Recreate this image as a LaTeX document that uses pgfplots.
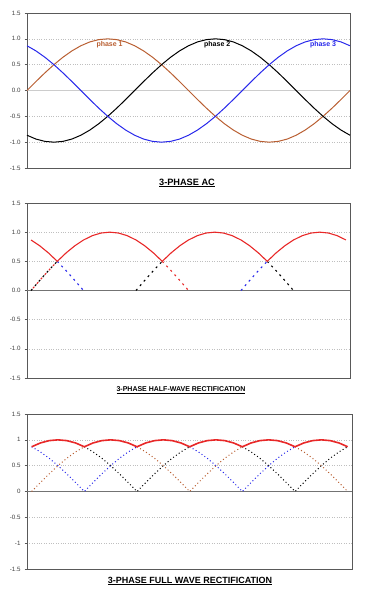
\documentclass[border=0pt]{standalone}
\usepackage{pgfplots}
\pgfplotsset{compat=1.18}
\usepackage{fontspec}
\setmainfont{Liberation Sans}
\definecolor{ph1}{RGB}{185,95,50}
\definecolor{ph3}{RGB}{40,40,235}
\definecolor{rd}{RGB}{232,40,40}
\pgfplotsset{
  base/.style={
    scale only axis, width=323pt, height=155pt,
    ymin=-1.5, ymax=1.5, ytick={-1.5,-1,-0.5,0,0.5,1,1.5},
    xtick=\empty, ymajorgrids, grid style={black!25, dotted, line width=0.6pt},
    axis line style={black!65, line width=0.9pt},
    y tick label style={font=\fontsize{6.2}{7}\selectfont, text=black!75},
    ytick pos=left, tick align=outside, major tick length=2.5pt,
    tick style={black!65, line width=0.6pt},
    clip=false,
    yticklabel style={xshift=-0.5pt},
  },
}
\begin{document}
\begin{tikzpicture}[x=1pt,y=1pt]
\useasboundingbox (0,0) rectangle (377,-599);
% ---------------- Panel 1 ----------------
\begin{axis}[base, at={(27pt,-13pt)}, anchor=north west, xmin=0, xmax=360,
  yticklabels={-1.5,-1.0,-0.5,0.0,0.5,1.0,1.5}]
\addplot[black!20, line width=0.7pt, forget plot] coordinates {(0,0) (360,0)};
\addplot[ph1, line width=1pt] coordinates {
(0,0) (10,.174) (20,.342) (30,.5) (40,.643) (50,.766) (60,.866) (70,.940) (80,.985) (90,1)
(100,.985) (110,.940) (120,.866) (130,.766) (140,.643) (150,.5) (160,.342) (170,.174) (180,0)
(190,-.174) (200,-.342) (210,-.5) (220,-.643) (230,-.766) (240,-.866) (250,-.940) (260,-.985) (270,-1)
(280,-.985) (290,-.940) (300,-.866) (310,-.766) (320,-.643) (330,-.5) (340,-.342) (350,-.174) (360,0)};
\addplot[black, line width=1pt] coordinates {
(0,-.866) (10,-.940) (20,-.985) (30,-1) (40,-.985) (50,-.940) (60,-.866) (70,-.766) (80,-.643) (90,-.5)
(100,-.342) (110,-.174) (120,0) (130,.174) (140,.342) (150,.5) (160,.643) (170,.766) (180,.866)
(190,.940) (200,.985) (210,1) (220,.985) (230,.940) (240,.866) (250,.766) (260,.643) (270,.5)
(280,.342) (290,.174) (300,0) (310,-.174) (320,-.342) (330,-.5) (340,-.643) (350,-.766) (360,-.866)};
\addplot[ph3, line width=1pt] coordinates {
(0,.866) (10,.766) (20,.643) (30,.5) (40,.342) (50,.174) (60,0) (70,-.174) (80,-.342) (90,-.5)
(100,-.643) (110,-.766) (120,-.866) (130,-.940) (140,-.985) (150,-1) (160,-.985) (170,-.940) (180,-.866)
(190,-.766) (200,-.643) (210,-.5) (220,-.342) (230,-.174) (240,0) (250,.174) (260,.342) (270,.5)
(280,.643) (290,.766) (300,.866) (310,.940) (320,.985) (330,1) (340,.985) (350,.940) (360,.866)};
\node[text=ph1, font=\bfseries\fontsize{7}{8}\selectfont] at (axis cs:92,0.88) {phase 1};
\node[text=black, font=\bfseries\fontsize{7}{8}\selectfont] at (axis cs:212,0.88) {phase 2};
\node[text=ph3, font=\bfseries\fontsize{7}{8}\selectfont] at (axis cs:330,0.88) {phase 3};
\end{axis}
\node[font=\bfseries\fontsize{9.2}{10}\selectfont] at (187,-183) {\underline{3-PHASE AC}};
% ---------------- Panel 2 ----------------
\begin{axis}[base, at={(27pt,-203pt)}, anchor=north west, height=175pt, xmin=-4.6, xmax=364.6,
  yticklabels={-1.5,-1.0,-0.5,0.0,0.5,1.0,1.5}]
\addplot[black!55, line width=0.8pt, forget plot] coordinates {(-4.6,0) (364.6,0)};
\addplot[black, line width=1.1pt, dash pattern=on 2pt off 4pt] coordinates {(0,0) (10,.174) (20,.342) (30,.5)};
\addplot[rd, line width=1.1pt, dash pattern=on 2pt off 4pt, dash phase=3pt] coordinates {(0,0) (10,.174) (20,.342) (30,.5)};
\addplot[ph3, line width=1.1pt, dash pattern=on 2pt off 4pt] coordinates {(30,.5) (40,.342) (50,.174) (60,0)};
\addplot[black, line width=1.1pt, dash pattern=on 2pt off 4pt] coordinates {(120,0) (130,.174) (140,.342) (150,.5)};
\addplot[rd, line width=1.1pt, dash pattern=on 2pt off 4pt] coordinates {(150,.5) (160,.342) (170,.174) (180,0)};
\addplot[ph3, line width=1.1pt, dash pattern=on 2pt off 4pt] coordinates {(240,0) (250,.174) (260,.342) (270,.5)};
\addplot[black, line width=1.1pt, dash pattern=on 2pt off 4pt] coordinates {(270,.5) (280,.342) (290,.174) (300,0)};
\addplot[rd, line width=1.1pt] coordinates {
(0,.866) (10,.766) (20,.643) (30,.5) (40,.643) (50,.766) (60,.866) (70,.940) (80,.985) (90,1)
(100,.985) (110,.940) (120,.866) (130,.766) (140,.643) (150,.5) (160,.643) (170,.766) (180,.866)
(190,.940) (200,.985) (210,1) (220,.985) (230,.940) (240,.866) (250,.766) (260,.643) (270,.5)
(280,.643) (290,.766) (300,.866) (310,.940) (320,.985) (330,1) (340,.985) (350,.940) (360,.866)};
\end{axis}
\node[font=\bfseries\fontsize{7}{8}\selectfont] at (181,-390) {\underline{3-PHASE HALF-WAVE RECTIFICATION}};
% ---------------- Panel 3 ----------------
\begin{axis}[base, at={(27pt,-414pt)}, anchor=north west, width=325pt, xmin=-5.3, xmax=364.9,
  yticklabels={-1.5,-1,-0.5,0,0.5,1,1.5}]
\addplot[black!55, line width=0.8pt, forget plot] coordinates {(-5.3,0) (364.9,0)};
% |phase 1|
\addplot[ph1, line width=1pt, dash pattern=on 1pt off 2.5pt] coordinates {(0,0) (10,.174) (20,.342) (30,.5) (40,.643) (50,.766) (60,.866)};
\addplot[ph1, line width=1pt, dash pattern=on 1pt off 2.5pt] coordinates {(120,.866) (130,.766) (140,.643) (150,.5) (160,.342) (170,.174) (180,0) (190,.174) (200,.342) (210,.5) (220,.643) (230,.766) (240,.866)};
\addplot[ph1, line width=1pt, dash pattern=on 1pt off 2.5pt] coordinates {(300,.866) (310,.766) (320,.643) (330,.5) (340,.342) (350,.174) (360,0)};
% |phase 2|
\addplot[black, line width=1pt, dash pattern=on 1pt off 2.5pt] coordinates {(60,.866) (70,.766) (80,.643) (90,.5) (100,.342) (110,.174) (120,0) (130,.174) (140,.342) (150,.5) (160,.643) (170,.766) (180,.866)};
\addplot[black, line width=1pt, dash pattern=on 1pt off 2.5pt] coordinates {(240,.866) (250,.766) (260,.643) (270,.5) (280,.342) (290,.174) (300,0) (310,.174) (320,.342) (330,.5) (340,.643) (350,.766) (360,.866)};
% |phase 3|
\addplot[ph3, line width=1pt, dash pattern=on 1pt off 2.5pt] coordinates {(0,.866) (10,.766) (20,.643) (30,.5) (40,.342) (50,.174) (60,0) (70,.174) (80,.342) (90,.5) (100,.643) (110,.766) (120,.866)};
\addplot[ph3, line width=1pt, dash pattern=on 1pt off 2.5pt] coordinates {(180,.866) (190,.766) (200,.643) (210,.5) (220,.342) (230,.174) (240,0) (250,.174) (260,.342) (270,.5) (280,.643) (290,.766) (300,.866)};
% envelope
\addplot[rd, line width=1.6pt] coordinates {
(0,.866) (10,.940) (20,.985) (30,1) (40,.985) (50,.940) (60,.866)
(70,.940) (80,.985) (90,1) (100,.985) (110,.940) (120,.866)
(130,.940) (140,.985) (150,1) (160,.985) (170,.940) (180,.866)
(190,.940) (200,.985) (210,1) (220,.985) (230,.940) (240,.866)
(250,.940) (260,.985) (270,1) (280,.985) (290,.940) (300,.866)
(310,.940) (320,.985) (330,1) (340,.985) (350,.940) (360,.866)};
\end{axis}
\node[font=\bfseries\fontsize{9}{10}\selectfont] at (190,-581) {\underline{3-PHASE FULL WAVE RECTIFICATION}};
\end{tikzpicture}
\end{document}
